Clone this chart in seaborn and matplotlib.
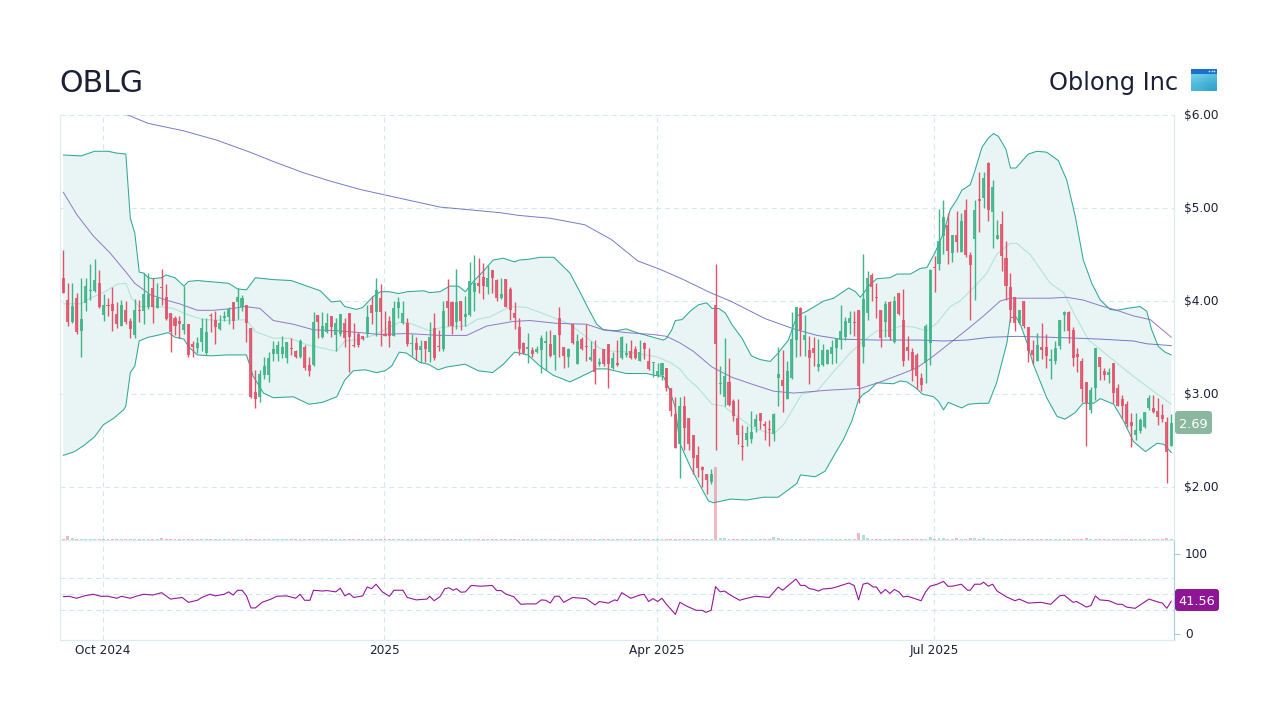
import numpy as np
import matplotlib
matplotlib.use("Agg")
import matplotlib.pyplot as plt
from matplotlib.patches import FancyBboxPatch, Rectangle
from matplotlib.transforms import IdentityTransform, ScaledTranslation
import seaborn as sns

ticker = "OBLG"
company = "Oblong Inc"
price_ticks = [2, 3, 4, 5, 6]
rsi_ticks = [0, 100]
rsi_guides = [30, 50, 70]
date_tick_bars = [9, 72, 133, 195]
date_tick_labels = ["Oct 2024", "2025", "Apr 2025", "Jul 2025"]
last_close = "2.69"
last_rsi = "41.56"

open_px = [
 4.25,4.01,3.77,4.03,3.68,3.98,4.11,4.11,4.19,3.85, 3.96,3.97,3.86,3.73,3.90,3.78,3.63,3.90,3.89,3.94,
 4.14,3.93,4.15,4.04,3.87,3.82,3.78,3.69,3.75,3.54, 3.49,3.56,3.44,3.85,3.80,3.70,3.82,3.83,3.99,3.99,
 3.94,3.96,3.71,3.02,2.97,3.20,3.20,3.43,3.43,3.43, 3.39,3.49,3.46,3.40,3.50,3.31,3.31,3.85,3.61,3.67,
 3.84,3.63,3.65,3.76,3.87,3.53,3.64,3.62,3.64,3.96, 3.88,4.03,3.64,3.79,3.62,3.92,3.76,3.76,3.54,3.55,
 3.47,3.57,3.45,3.71,3.52,3.48,4.00,3.99,3.77,4.00, 3.83,3.85,4.10,4.19,4.26,4.15,4.33,4.23,4.03,4.24,
 4.13,3.87,3.72,3.55,3.48,3.47,3.45,3.47,3.55,3.54, 3.42,3.82,3.51,3.40,3.75,3.32,3.59,3.52,3.37,3.48,
 3.32,3.48,3.54,3.28,3.33,3.39,3.42,3.46,3.48,3.35, 3.55,3.35,3.33,3.19,3.20,3.28,3.06,2.79,2.46,2.87,
 2.74,2.56,2.34,2.22,2.14,2.05,3.96,3.11,2.97,3.13, 2.92,2.74,2.44,2.50,2.52,2.64,2.80,2.67,2.62,2.57,
 3.17,3.15,2.95,3.17,3.58,3.92,3.58,3.47,3.49,3.29, 3.31,3.32,3.43,3.49,3.58,3.61,3.76,3.77,3.90,3.51,
 3.87,4.28,4.04,3.90,3.77,3.99,3.56,4.09,3.80,3.51, 3.45,3.42,3.17,3.33,3.55,4.36,4.40,4.70,4.82,4.52,
 4.71,4.53,4.98,4.49,4.67,5.09,5.11,5.48,4.96,4.67, 4.83,4.46,4.15,4.04,3.76,4.00,3.72,3.47,3.35,3.51,
 3.51,3.35,3.36,3.52,3.85,3.88,3.69,3.43,3.36,3.13, 2.83,3.06,3.40,3.25,3.20,3.33,3.06,2.95,2.89,2.70,
 2.56,2.60,2.65,2.85,2.85,2.82,2.77,2.70,2.44]
close_px = [
 4.09,3.77,3.95,3.67,3.81,4.16,4.12,4.23,3.94,3.96, 3.95,3.89,3.75,3.96,3.77,3.70,3.90,3.89,4.08,4.08,
 3.94,4.03,4.14,3.81,3.67,3.73,3.75,3.75,3.42,3.51, 3.55,3.71,3.67,3.84,3.72,3.76,3.84,3.91,3.79,4.04,
 4.03,3.76,2.97,2.95,3.21,3.30,3.39,3.48,3.53,3.51, 3.56,3.48,3.40,3.57,3.28,3.25,3.77,3.77,3.73,3.76,
 3.72,3.76,3.86,3.60,3.61,3.52,3.53,3.59,3.83,3.87, 4.12,3.88,3.62,3.62,3.92,3.99,3.87,3.54,3.55,3.47,
 3.52,3.48,3.61,3.39,3.50,3.89,3.93,3.73,3.99,3.78, 3.86,4.21,4.19,4.16,4.16,4.25,4.25,4.03,4.08,3.94,
 3.90,3.82,3.48,3.44,3.50,3.43,3.48,3.60,3.57,3.41, 3.63,3.63,3.41,3.48,3.55,3.57,3.48,3.50,3.40,3.24,
 3.34,3.32,3.32,3.39,3.31,3.61,3.44,3.39,3.39,3.45, 3.48,3.27,3.34,3.25,3.33,3.06,2.82,2.42,2.87,2.63,
 2.46,2.31,2.20,2.18,2.07,2.14,3.54,3.12,3.19,2.88, 2.76,2.56,2.43,2.58,2.59,2.73,2.71,2.66,2.61,2.79,
 3.21,3.09,3.25,3.59,3.94,3.69,3.63,3.39,3.44,3.32, 3.47,3.47,3.51,3.60,3.68,3.79,3.82,3.76,3.09,4.02,
 4.25,4.15,4.03,3.60,3.97,3.61,4.00,3.86,3.36,3.46, 3.26,3.19,3.10,3.73,4.33,4.35,4.64,4.90,4.54,4.71,
 4.63,4.86,4.49,4.39,4.98,5.08,5.32,4.98,5.23,4.71, 4.48,4.16,3.90,3.76,3.90,3.73,3.46,3.42,3.53,3.47,
 3.41,3.38,3.49,3.80,3.88,3.68,3.39,3.40,3.05,2.90, 3.04,3.49,3.29,3.20,3.24,3.01,2.87,2.87,2.68,2.66,
 2.61,2.72,2.81,2.96,2.81,2.75,2.73,2.38,2.69]
high_px = [
 4.55,4.19,4.19,4.09,4.25,4.25,4.40,4.45,4.33,4.07, 4.03,4.15,3.99,4.01,4.00,3.82,4.02,4.01,4.30,4.30,
 4.25,4.19,4.34,4.18,3.87,3.84,3.84,4.16,3.75,3.57, 3.61,3.82,3.82,3.87,3.89,3.85,3.89,3.94,3.99,4.14,
 4.06,3.96,3.71,3.26,3.26,3.40,3.45,3.57,3.57,3.62, 3.56,3.60,3.47,3.59,3.53,3.40,3.88,3.85,3.88,3.87,
 3.84,3.82,3.86,3.82,3.87,3.76,3.67,3.62,3.96,4.05, 4.25,4.18,3.89,3.84,4.00,4.04,4.00,3.82,3.64,3.61,
 3.58,3.57,3.77,3.87,3.69,4.00,4.24,4.00,4.34,4.00, 4.05,4.42,4.49,4.46,4.41,4.39,4.33,4.24,4.25,4.24,
 4.15,3.99,3.82,3.56,3.66,3.51,3.52,3.63,3.68,3.69, 3.63,3.94,3.51,3.49,3.75,3.64,3.61,3.75,3.57,3.58,
 3.39,3.48,3.54,3.45,3.58,3.62,3.55,3.58,3.52,3.58, 3.56,3.49,3.34,3.33,3.33,3.28,3.06,2.97,2.97,2.98,
 2.74,2.56,2.44,2.23,2.14,2.19,4.40,3.30,3.60,3.39, 2.95,2.95,2.67,2.66,2.82,2.79,2.80,2.71,2.72,2.80,
 3.51,3.47,3.35,3.88,3.94,3.94,3.85,3.62,3.61,3.59, 3.54,3.48,3.58,3.60,3.96,3.83,3.89,3.89,3.90,4.50,
 4.32,4.30,4.19,3.90,4.00,4.00,4.05,4.09,4.13,3.62, 3.49,3.44,3.23,3.75,4.34,4.48,4.99,5.09,4.95,4.71,
 4.97,4.95,5.10,4.53,5.09,5.39,5.39,5.49,5.30,4.87, 4.97,4.64,4.30,4.04,3.90,4.00,3.72,3.58,3.66,3.76,
 3.64,3.48,3.57,3.80,3.89,3.89,3.72,3.49,3.39,3.13, 3.07,3.49,3.40,3.28,3.28,3.33,3.11,2.99,2.92,2.80,
 2.80,2.74,2.81,2.99,2.99,2.96,2.89,2.75,2.78]
low_px = [
 4.09,3.73,3.76,3.64,3.40,3.89,4.01,4.10,3.92,3.79, 3.84,3.68,3.71,3.73,3.75,3.60,3.60,3.77,3.75,3.91,
 3.76,3.92,3.96,3.80,3.45,3.63,3.60,3.64,3.40,3.40, 3.44,3.46,3.42,3.67,3.54,3.69,3.78,3.75,3.70,3.81,
 3.89,3.56,2.96,2.85,2.91,3.16,3.13,3.35,3.35,3.39, 3.33,3.42,3.39,3.39,3.26,3.19,3.30,3.60,3.60,3.66,
 3.61,3.46,3.62,3.50,3.24,3.51,3.51,3.58,3.61,3.75, 3.62,3.52,3.62,3.51,3.62,3.82,3.75,3.52,3.41,3.37,
 3.33,3.34,3.34,3.37,3.46,3.46,3.73,3.65,3.70,3.69, 3.73,3.84,3.89,4.09,4.02,4.08,4.09,4.00,4.02,3.94,
 3.80,3.70,3.42,3.43,3.33,3.40,3.44,3.23,3.26,3.40, 3.26,3.40,3.28,3.29,3.54,3.32,3.47,3.35,3.35,3.11,
 3.30,3.30,3.06,3.27,3.30,3.38,3.40,3.38,3.38,3.35, 3.38,3.26,3.18,3.18,3.15,3.03,2.76,2.42,2.10,2.40,
 2.40,2.14,2.11,2.00,1.92,2.03,2.40,3.00,2.87,2.87, 2.71,2.46,2.29,2.44,2.47,2.59,2.62,2.51,2.44,2.49,
 2.87,2.81,2.95,3.16,3.40,3.41,3.41,3.11,3.30,3.25, 3.30,3.32,3.32,3.33,3.48,3.58,3.64,3.62,2.90,3.33,
 3.80,4.00,3.82,3.51,3.61,3.58,3.55,3.85,3.30,3.37, 3.14,3.05,3.03,3.12,3.31,4.10,4.33,4.51,4.40,4.42,
 4.53,4.53,4.47,3.80,4.01,4.74,5.00,4.86,4.57,4.67, 4.32,4.01,3.77,3.68,3.75,3.71,3.34,3.32,3.35,3.38,
 3.28,3.16,3.32,3.48,3.68,3.55,3.30,3.24,2.91,2.44, 2.80,2.94,3.15,3.15,3.12,2.90,2.87,2.74,2.65,2.43,
 2.51,2.58,2.63,2.83,2.80,2.67,2.70,2.04,2.44]
volume_m = [
 .08,.4,.2,.08,.15,.15,.08,.08,.08,.08, .08,.08,.08,.08,.08,.08,.15,.08,.15,.08,
 .08,.08,.2,.08,.08,.08,.08,.15,.08,.08, .08,.08,.08,.08,.08,.08,.08,.08,.08,.08,
 .08,.08,.08,.08,.08,.08,.08,.08,.08,.08, .08,.08,.08,.08,.08,.08,.08,.08,.08,.08,
 .08,.08,.08,.08,.08,.08,.08,.08,.08,.08, .15,.08,.08,.08,.08,.08,.08,.08,.08,.08,
 .08,.08,.08,.08,.08,.08,.08,.08,.08,.08, .08,.08,.08,.08,.08,.08,.08,.08,.08,.08,
 .08,.08,.08,.08,.08,.08,.08,.08,.08,.08, .08,.08,.08,.08,.08,.08,.08,.08,.08,.08,
 .08,.08,.08,.08,.08,.08,.08,.08,.08,.08, .08,.08,.08,.08,.08,.08,.08,.08,.08,.08,
 .08,.08,.08,.08,.08,.08,7.3,.2,.2,.08, .08,.08,.08,.08,.08,.08,.08,.08,.08,.3,
 .2,.08,.08,.08,.08,.08,.08,.08,.08,.08, .08,.08,.08,.08,.08,.08,.08,.08,.7,.5,
 .2,.08,.08,.08,.08,.08,.08,.08,.08,.08, .08,.08,.08,.08,.3,.08,.2,.2,.08,.08,
 .2,.08,.08,.2,.2,.08,.2,.08,.08,.08, .08,.08,.08,.08,.08,.08,.08,.08,.08,.08,
 .08,.08,.08,.08,.08,.08,.08,.08,.08,.2, .08,.08,.08,.08,.08,.08,.08,.08,.08,.08,
 .08,.08,.08,.08,.08,.08,.08,.2,.08]

upper_bar = [0,4,7,10,12,14,14.5,15,16,17,18,19,20,22,23,25,27,28,30,37,39,41,43,47,51,57.5,60,62,63,65.6,67,69.4,71,73,75,77,80.6,82,84.3,86.5,88.4,90,91.8,94,96.2,98.5,101,102,104.4,106.7,109.8,113.4,115.6,117.5,119.4,120.9,123.8,126,128.3,131.3,134.3,135,136.2,137,138.5,140.3,142.2,144,145.2,146.7,148.2,149.6,151.9,154,156,158.2,160,162.3,164.2,166.4,170.2,172.4,175.8,177.3,178.4,180.6,182.1,185,186.6,189.6,191.8,193.3,195.1,197,198.5,200,201.1,203,204.1,205.6,207,208.2,209.3,211,212,213.2,214.5,216,217.9,220.1,222.7,224.6,226.5,228.3,230.2,232.1,234.3,235.8,238,241,242.5,243.6,245.1,246.6,248]
upper_px = [5.57,5.56,5.61,5.61,5.59,5.58,5.23,4.89,4.73,4.31,4.30,4.25,4.24,4.25,4.28,4.25,4.16,4.21,4.22,4.19,4.13,4.12,4.25,4.23,4.22,4.11,3.99,4.00,3.94,3.91,3.93,4.05,4.10,4.10,4.08,4.10,4.11,4.09,4.10,4.16,4.16,4.10,4.21,4.32,4.44,4.46,4.42,4.44,4.45,4.47,4.47,4.30,4.10,3.92,3.75,3.69,3.68,3.70,3.66,3.62,3.58,3.60,3.69,3.79,3.80,3.89,3.96,3.98,3.92,3.92,3.87,3.75,3.60,3.41,3.37,3.35,3.44,3.58,3.84,3.89,4.00,4.03,4.14,4.10,4.04,4.18,4.24,4.25,4.29,4.29,4.35,4.36,4.52,4.73,4.98,5.09,5.19,5.25,5.41,5.65,5.75,5.80,5.77,5.63,5.43,5.43,5.50,5.58,5.61,5.60,5.51,5.30,4.91,4.44,4.19,4.01,3.91,3.90,3.92,3.94,3.89,3.69,3.51,3.45,3.42]
lower_bar = [0,2.5,4.7,7,9,11.3,13.5,14,15,16,17,19,21,23.5,25,27,28,30,33,36.5,41,42.5,44.8,47,51.5,55,58,61.2,63,64.9,67.5,70.1,72,73.5,75.2,76.8,79.8,81.7,83.9,85.8,89.9,92.9,96.1,98.5,101,104,106.7,109.7,113.4,115.6,119.4,121.6,126,130.6,132.4,134.3,135.4,136.9,138,140.3,142.6,144.4,145.5,149.3,153,156.7,160,162.3,164.2,165,168.3,170.5,172.4,174.6,176.5,178,179.1,180.2,182.1,185.8,187.3,188.8,191,192.2,194.8,195.9,197,198.1,201.1,202.6,205.2,207.1,208.9,211.2,212,213.2,214.2,215.7,217.1,220.1,222.4,224.2,226.5,228.2,230.6,232.1,235.1,237.3,239.5,242.2,244.8,246.3,248]
lower_px = [2.34,2.38,2.45,2.54,2.67,2.74,2.83,2.87,3.23,3.30,3.57,3.61,3.63,3.66,3.61,3.59,3.51,3.42,3.41,3.42,3.42,3.19,3.01,2.96,2.97,2.89,2.91,2.97,3.15,3.25,3.26,3.23,3.25,3.30,3.45,3.44,3.34,3.32,3.26,3.29,3.32,3.25,3.23,3.32,3.45,3.42,3.30,3.20,3.13,3.18,3.27,3.27,3.22,3.22,3.20,3.19,3.08,2.87,2.47,2.22,2.01,1.85,1.83,1.87,1.86,1.89,1.89,1.97,2.04,2.13,2.11,2.17,2.33,2.51,2.71,2.94,3.00,3.03,3.12,3.11,3.14,3.13,3.06,3.00,2.97,2.92,2.83,2.91,2.85,2.89,2.90,2.90,3.12,3.55,3.82,3.83,3.75,3.55,3.32,2.96,2.76,2.73,2.80,2.90,2.90,2.95,2.89,2.71,2.49,2.38,2.47,2.46,2.37]
mid_bar = [0,4,6,9,12,14,15.3,17,21.6,24.6,28,31.3,36.5,41,43,47,50.7,54.5,61.2,63,65,66.4,70,73,75.2,77.6,82,85,90.3,92.5,95.5,99.2,101,103.7,108.2,113.4,117.1,120.1,122.7,126.8,132.8,135.8,138,139.6,141.8,145.2,147.8,150.8,154.5,159,161.2,165.3,168.7,172.4,176.1,179.1,182.1,185,187.3,190.3,193.3,195.5,198.5,200.7,203.7,206.7,208.9,211.9,213.4,216.4,220.9,223.9,226.5,229.5,233.6,239.5,244,248]
mid_px = [3.97,3.97,4.03,4.09,4.18,4.19,4.03,3.94,3.94,3.92,3.85,3.80,3.79,3.80,3.67,3.60,3.60,3.53,3.46,3.57,3.58,3.59,3.64,3.72,3.77,3.76,3.68,3.72,3.73,3.80,3.83,3.92,3.94,3.93,3.85,3.75,3.61,3.49,3.46,3.45,3.40,3.34,3.27,3.17,3.08,2.89,2.87,2.76,2.63,2.57,2.67,3.00,3.03,3.24,3.44,3.57,3.68,3.68,3.73,3.72,3.68,3.76,3.94,4.00,4.14,4.30,4.50,4.62,4.62,4.50,4.19,4.09,3.84,3.58,3.42,3.19,3.03,2.89]
sma50_bar = [0,3,6.7,10.4,14.2,16,19.4,23,26,30,33.6,38,40.7,44,47,51.5,56,61.2,66.4,70.9,76.8,84.3,90.3,94.7,100.7,104.4,110.4,117.1,120.9,126,132,135,138,141,145.2,149.6,154.5,159,163.5,170.9,178.4,182.9,187.3,191,194.8,198.5,202.2,206,209.7,211.9,220.9,224.6,228.3,232.1,235.8,239.5,243.3,245.5,248]
sma50_px = [5.17,4.93,4.70,4.52,4.30,4.19,4.07,4.01,3.97,3.90,3.90,3.92,3.94,3.92,3.79,3.75,3.69,3.68,3.66,3.64,3.65,3.63,3.63,3.73,3.78,3.79,3.76,3.75,3.69,3.66,3.64,3.62,3.55,3.46,3.29,3.18,3.10,3.03,3.01,3.04,3.06,3.13,3.21,3.28,3.41,3.55,3.69,3.84,4.00,4.03,4.03,4.04,4.01,3.95,3.90,3.84,3.80,3.71,3.61]
sma200_bar = [13.4,19,26.9,34.3,41.8,47,53.7,59.7,66.4,72,84.3,97.7,102,108.9,116.7,122.7,128.6,133.6,138.8,144.8,149.3,157.1,163.5,168.7,173.9,182.1,191.8,197,202.2,207.4,213.4,220.9,226.8,232.1,239.5,242.5,248]
sma200_px = [6.02,5.91,5.83,5.73,5.60,5.50,5.38,5.29,5.20,5.14,5.01,4.95,4.92,4.89,4.82,4.66,4.43,4.34,4.23,4.09,4.00,3.81,3.70,3.63,3.59,3.58,3.58,3.57,3.58,3.61,3.62,3.61,3.60,3.59,3.57,3.54,3.52]
rsi_bar = [0,1.3,3,4.7,6.7,8.4,10,12,13,15,16.3,18,20,22,24,26.6,28,30,31,32.8,34,36,37,38,39,40,41,42,43,44.5,46.5,47.8,50,52,53,54,55.2,56,58,59,61,62,63,64,65,67,68,69,70,71.4,73,74,76,77,79,81.4,82,83,84.3,85.4,86.3,87.3,88,89,90,91.3,93.4,96,97,98,99,100.8,102.4,103.8,105.8,107,108,109,110,111,112,114,117,119,120,122,123.4,124,125,127,129,130,131,132,133,134,135,137,138,139.6,141.7,143,143.8,145,146,147,148,149.3,151.4,153,155,158,160,161,164,165,166,167,168,169,170,172,173,175.8,177,178,179,180,181.3,182,183,184,185,186,187,188,189,192,193,194,195.6,197,198,199,201,202.4,203,204,205.3,206,207,208,209,211,213,214,216,218.8,221,223,224,226,226.8,229,230,231,232,234,236,237,238,239.9,243,245,246,247,248]
rsi_val = [47,47.5,45,48,50,47.5,47.5,45,47.5,45,47.5,50,49,52,44,46,40,42.5,46,50,48,50,53,49,55,55,48,33,33,40,44,47.5,48,45,50,42.5,42.5,55,54,54.6,53,57.5,48,51,46,48,59,57,62.5,53,47.5,55,55,46,43,44,47.5,42,47,57,58,55,57,52.5,53,61,60,61,54.6,54.6,50.4,47,37.5,38,38,43,42.5,39,47.5,47.5,40,46,44.6,36.7,41,39,43,42,52,45,49,50,41,44.6,41,45,37.5,25,40,35,30,30,27.5,30,59.6,53,54,49,42.5,45,47.5,46,59,55,69,61,61,57,56,54,56.5,57.5,59,64,61,43,62.5,64,59,59,51,56,51,56,53,46.7,47.5,42,53,60,62.5,66,60,60,62.5,55,55,62.5,62.5,65,60,62.5,54,47,42,44,39,40,37.5,48,49,40,41,34,36,48,43,42,37.5,37.5,34,32.5,44,40.4,39,32.5,41.56]

UP, DOWN = "#3fb488", "#e2526a"
INK = "#1c2036"
GRID = "#d3e8ef"
GRID_RSI = "#c9e8f2"
DASH = (0, (4.5, 3.5))

sns.set_theme(style="white")
plt.rcParams["font.family"] = ["DejaVu Sans"]

fig = plt.figure(figsize=(12.8, 7.2), dpi=100, facecolor="white")
L, R = 60 / 1280, 1174 / 1280
ax = fig.add_axes([L, 1 - 540 / 720, R - L, 425 / 720])
ax_rsi = fig.add_axes([L, 1 - 640 / 720, R - L, 100 / 720], sharex=ax)
ax_vol = ax.twinx()

bars = np.arange(len(close_px))
o, c, h, l = map(np.array, (open_px, close_px, high_px, low_px))
colors = np.where(c >= o, UP, DOWN)

ax.set_xlim(-0.74, 248.6)
ax.set_ylim(1.43, 6.0)
ax_vol.set_ylim(0, 42.5)
ax_rsi.set_ylim(-6.9, 117.5)

for a in (ax, ax_rsi):
    for tb in date_tick_bars:
        a.axvline(tb - 0.15, color=GRID, lw=0.8, ls=DASH, zorder=0)
for p in price_ticks:
    ax.axhline(p, color=GRID, lw=0.8, ls=DASH, zorder=0, clip_on=False)
for g in rsi_guides:
    ax_rsi.axhline(g, color=GRID_RSI, lw=0.8, ls=DASH, zorder=0)

ax.fill(np.r_[upper_bar, lower_bar[::-1]], np.r_[upper_px, lower_px[::-1]],
        color="#e9f5f4", lw=0, zorder=1)


def line(a, x, y, color, lw, alpha=1.0, z=2):
    sns.lineplot(x=x, y=y, ax=a, color=color, lw=lw, alpha=alpha, estimator=None,
                 sort=False, legend=False, zorder=z, errorbar=None)


line(ax, mid_bar, mid_px, "#b5e2da", 0.8)
line(ax, upper_bar, upper_px, "#2ea897", 0.75, z=3)
line(ax, lower_bar, lower_px, "#2ea897", 0.75, z=3)
line(ax, sma50_bar, sma50_px, "#7e62c0", 0.7, alpha=0.85, z=3)
line(ax, sma200_bar, sma200_px, "#5a66bf", 0.7, alpha=0.85, z=3)

ax.vlines(bars, l, h, colors=colors, lw=1.0, zorder=4)
ax.bar(bars, np.maximum(np.abs(c - o), 0.012), bottom=np.minimum(o, c), width=0.68,
       color=colors, alpha=0.88, lw=0, zorder=5)

ax_vol.bar(bars, volume_m, width=0.66, color=colors, alpha=0.4, lw=0, zorder=2)

line(ax_rsi, rsi_bar, rsi_val, "#97169c", 0.8, z=3)

ax.set_ylabel("")
ax_rsi.set_ylabel("")
ax_vol.set_ylabel("")
ax.tick_params(axis="x", which="both", bottom=False, labelbottom=False)
ax.set_yticks(price_ticks)
ax.yaxis.tick_right()
ax.set_yticklabels([f"${p:.2f}" for p in price_ticks], color=INK, fontsize=8.7)
ax.tick_params(axis="y", length=0, pad=7.5)
ax_vol.set_yticks([])
ax_vol.patch.set_visible(False)

ax_rsi.set_xticks([b - 0.15 for b in date_tick_bars])
ax_rsi.set_xticklabels(date_tick_labels, color=INK, fontsize=8.7)
ax_rsi.tick_params(axis="x", length=0, pad=3)
ax_rsi.yaxis.tick_right()
ax_rsi.set_yticks(rsi_ticks)
ax_rsi.set_yticklabels(rsi_ticks, color=INK, fontsize=8.7)
ax_rsi.tick_params(axis="y", length=4, width=0.8, color="#a9d0e0", pad=4)

up_1px = ScaledTranslation(0, 1 / 100, fig.dpi_scale_trans)
for t in ax.get_yticklabels() + ax_rsi.get_yticklabels():
    t.set_transform(t.get_transform() + up_1px)

for a in (ax, ax_vol, ax_rsi):
    for s in a.spines.values():
        s.set_visible(False)
for a, side, col in ((ax, "left", "#e0ecf1"), (ax, "right", "#dcebf1"),
                     (ax_rsi, "bottom", "#dcebf1"), (ax_rsi, "top", "#dcebf1"),
                     (ax_rsi, "right", "#a9d0e0"), (ax_rsi, "left", "#e0ecf1")):
    a.spines[side].set_visible(True)
    a.spines[side].set_color(col)
    a.spines[side].set_linewidth(0.9)

fig.text(59.2 / 1280, 1 - 83 / 720, ticker, fontsize=21.6, color=INK, va="center", ha="left")
fig.text(1178 / 1280, 1 - 83 / 720, company, fontsize=17.3, color=INK, va="center", ha="right")


def badge(x0, y0, x1, y1, col, txt):
    fig.add_artist(FancyBboxPatch((x0, 720 - y1), x1 - x0, y1 - y0,
                                  boxstyle="round,pad=0,rounding_size=3", fc=col, ec="none",
                                  transform=IdentityTransform(), zorder=10))
    fig.text((x0 + x1) / 2 / 1280, 1 - ((y0 + y1) / 2) / 720, txt, color="white", fontsize=9.3,
             ha="center", va="center_baseline", zorder=11)


badge(1175, 411, 1212, 434, "#8ab89f", last_close)
badge(1175, 589, 1219, 611, "#8e1596", last_rsi)

# company logo: a small window icon
icon = fig.add_axes([1191 / 1280, 1 - 91 / 720, 26 / 1280, 22 / 720])
grad = np.array([[0.0, 0.35], [0.65, 1.0]])
icon.imshow(grad, cmap=matplotlib.colors.LinearSegmentedColormap.from_list("g", ["#7ad6ee", "#2ea4cc"]),
            extent=(0, 26, 0, 22), aspect="auto", interpolation="bicubic")
icon.add_patch(Rectangle((0, 17.5), 26, 4.5, color="#1a6fcf", lw=0))
icon.scatter([18, 20.5, 23], [19.7, 19.7, 19.7], s=1.5, color="#cfe6fa", lw=0)
icon.set_xlim(0, 26)
icon.set_ylim(0, 22)
icon.axis("off")

fig.savefig("out.png", dpi=100)
